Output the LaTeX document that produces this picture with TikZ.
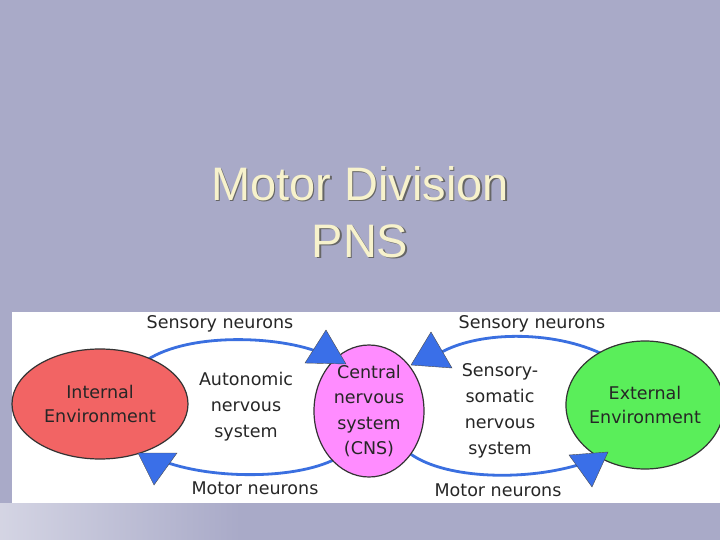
\documentclass[tikz,border=0pt]{standalone}
\usepackage{fontspec}
\setmainfont{Liberation Sans}
\newfontfamily\lbl{DejaVu Sans}
\usetikzlibrary{shapes.geometric}
\definecolor{bg}{HTML}{A9AAC8}
\definecolor{arc}{HTML}{3A6FE0}
\definecolor{tri}{HTML}{3A6FE8}
\definecolor{redc}{HTML}{F26464}
\definecolor{pinkc}{HTML}{FF8CFF}
\definecolor{greenc}{HTML}{5AEE5A}
\definecolor{titlec}{HTML}{F7F2CC}
\tikzset{
  env/.style={ellipse,draw=black!80,line width=1.2pt,align=center,font=\lbl\fontsize{17.5}{24}\selectfont,inner sep=0pt,text=black!85},
  lab/.style={align=center,font=\lbl\fontsize{17.5}{26}\selectfont,text=black!85},
  link/.style={draw=arc,line width=2.8pt},
  head/.style={fill=tri,draw=black!70,line width=0.4pt},
  ttl/.style={font=\fontsize{47}{57}\selectfont,text=titlec,align=center}
}
\begin{document}
\begin{tikzpicture}[x=1pt,y=-1pt]
\useasboundingbox (0,0) rectangle (720,540);
\fill[bg] (0,0) rectangle (720,540);
\shade[left color=white!50!bg,right color=bg] (0,503) rectangle (240,540);
\node[ttl,text=black!60] at (361.5,213.5) {Motor Division\\PNS};
\node[ttl] (title) at (360,212) {Motor Division\\PNS};
\fill[white] (12,312) rectangle (720,503);
% arcs
\coordinate (a1) at (147,360); \coordinate (a2) at (321,353);
\coordinate (b1) at (440,353); \coordinate (b2) at (610,358);
\coordinate (c1) at (339,457); \coordinate (c2) at (160,460);
\coordinate (d1) at (408,452); \coordinate (d2) at (578,465);
\draw[link] (a1) .. controls (190,332) and (280,336) .. (a2);
\draw[link] (b1) .. controls (480,330) and (560,330) .. (b2);
\draw[link] (c1) .. controls (300,480) and (210,480) .. (c2);
\draw[link] (d1) .. controls (440,478) and (520,482) .. (d2);
% ellipses
\node[env,fill=redc,minimum width=176,minimum height=110] (int) at (100,404) {Internal\\Environment};
\node[env,fill=pinkc,minimum width=110,minimum height=132,font=\lbl\fontsize{17.5}{25.5}\selectfont] (cns) at (369,411) {Central\\nervous\\system\\(CNS)};
\node[env,fill=greenc,minimum width=150,minimum height=128] (ext) at (645,405) {External\\Environment};
% heads
\draw[head] (326,330) -- (346,364) -- (305,363) -- cycle;
\draw[head] (431,332) -- (452,368) -- (411,365) -- cycle;
\draw[head] (138,453) -- (177,453) -- (154,485) -- cycle;
\draw[head] (569,455) -- (608,452) -- (592,487) -- cycle;
% labels
\node[lab] (s1) at (220,324) {Sensory neurons};
\node[lab] (s2) at (532,324) {Sensory neurons};
\node[lab] (ans) at (246,407) {Autonomic\\nervous\\system};
\node[lab] (sns) at (500,411) {Sensory-\\somatic\\nervous\\system};
\node[lab] (m1) at (255,488) {Motor neurons};
\node[lab] (m2) at (498,490) {Motor neurons};
\end{tikzpicture}
\end{document}
